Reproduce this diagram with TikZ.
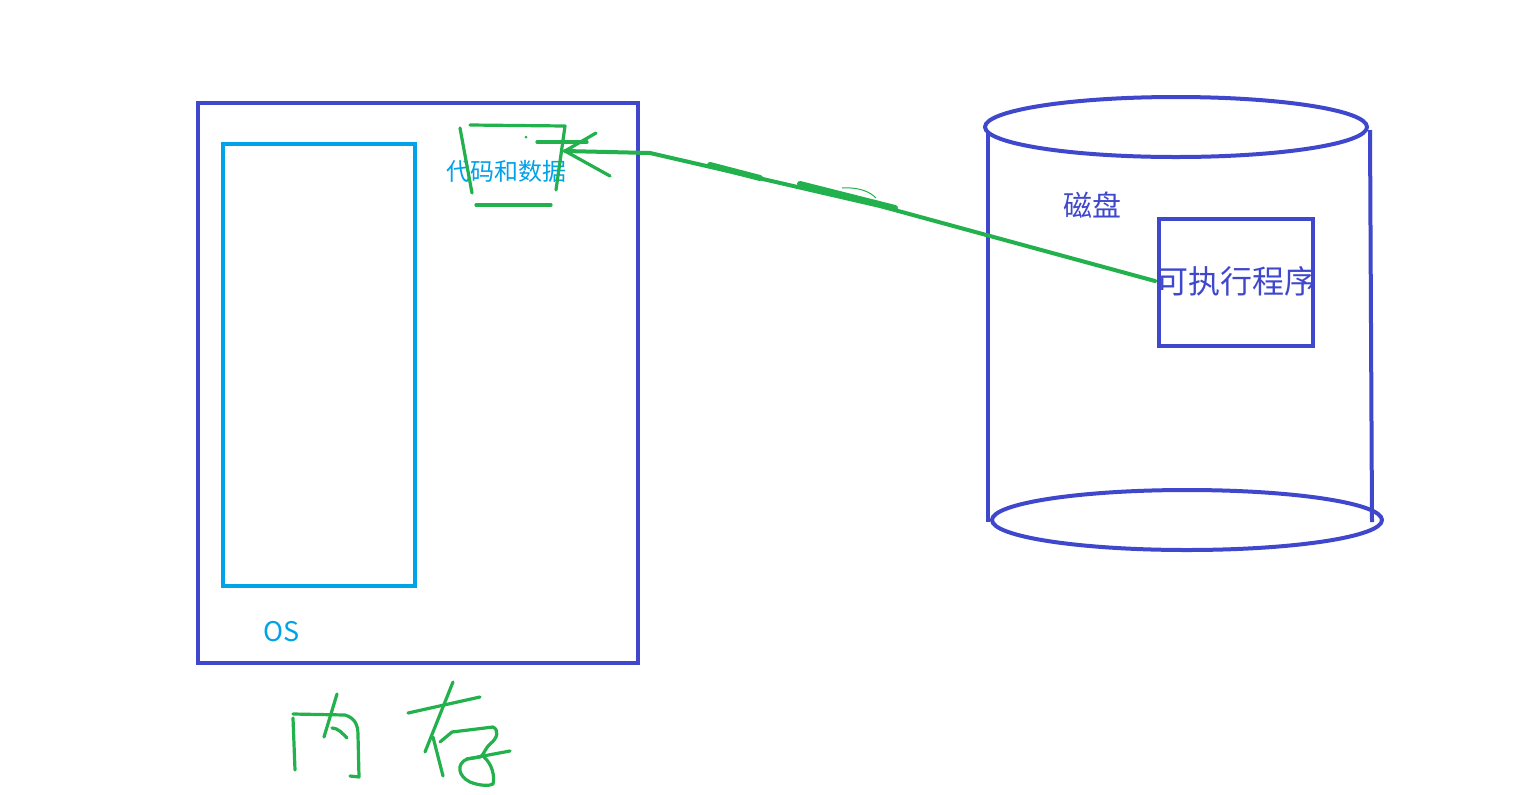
\documentclass[tikz,border=0pt]{standalone}
\usepackage{fontspec}
\newfontfamily\cjk{Noto Sans CJK SC}
\definecolor{pblue}{HTML}{3F48CC}
\definecolor{plight}{HTML}{00A2E8}
\definecolor{pgreen}{HTML}{22B14C}
\begin{document}
\begin{tikzpicture}[x=0.5pt,y=-0.5pt,
  box/.style={draw=pblue,line width=2pt},
  osbox/.style={draw=plight,line width=2pt},
  pen/.style={draw=pgreen,line width=1.6pt,line cap=round,line join=round},
  lbl/.style={inner sep=0pt,font=\cjk}]
\useasboundingbox (0,0) rectangle (1516,794);
\fill[white] (0,0) rectangle (1516,794);
% memory
\node[box,minimum width=220pt,minimum height=280pt,inner sep=0pt] (mem) at (418,383) {};
\node[osbox,minimum width=96pt,minimum height=221pt,inner sep=0pt] (os) at (319,365) {};
\node[lbl,text=plight,font=\cjk\fontsize{13.5}{14}\selectfont] (oslbl) at (282,632) {OS};
\node[lbl,text=plight,font=\cjk\fontsize{12}{13}\selectfont] (code) at (506,171) {代码和数据};
% green marks around code
\draw[pen] (460,128) -- (472,193);
\draw[pen] (470,125) -- (565,126) -- (556,190);
\draw[pen] (476,205) -- (551,205);
\draw[pen] (537,142) -- (587,142);
\fill[pgreen] (526,137) circle (1.5);
\coordinate (tip) at (565,151);
\draw[pen] (596,133) -- (tip) -- (610,176);
% disk
\draw[box] (988,127) -- (988,522);
\draw[box] (1370,130) -- (1372,522);
\draw[box,fill=white] (1176,127) ellipse [x radius=191, y radius=30];
\draw[box] (1187,520) ellipse [x radius=195, y radius=30];
\node[lbl,text=pblue,font=\cjk\fontsize{14.5}{15}\selectfont] (disk) at (1092,205) {磁盘};
\node[box,minimum width=77pt,minimum height=63.5pt,inner sep=0pt] (exe) at (1236,282.5) {};
\node[lbl,text=pblue,font=\cjk\fontsize{16}{17}\selectfont] (exelbl) at (1236,281) {可执行程序};
% main connector
\coordinate (start) at (1155,281);
\draw[pen,line width=2pt] (start) -- (880,206) -- (650,153) -- (tip);
\draw[pen,line width=3pt] (710,165) -- (760,178);
\draw[pen,line width=3pt] (800,184) -- (895,208);
\draw[pgreen,line width=0.5pt] (842,188) .. controls (860,187) and (870,192) .. (876,198);
% handwritten 内存
\draw[pen] (293,718) -- (295,770);
\draw[pen] (293,714) -- (345,715) .. controls (355,718) and (358,725) .. (358,735) -- (359,777) -- (350,776);
\draw[pen] (337,694) -- (324,737);
\draw[pen] (332,728) .. controls (338,728) and (342,733) .. (347,738);
\draw[pen] (408,713) -- (480,697);
\draw[pen] (453,682) -- (425,752);
\draw[pen] (433,737) -- (443,776);
\draw[pen] (440,742) -- (452,732) -- (493,727) .. controls (499,730) and (498,738) .. (490,744)
  .. controls (484,750) and (484,755) .. (480,757)
  -- (467,759) .. controls (456,764) and (458,776) .. (470,782)
  .. controls (480,786) and (490,786) .. (493,784) .. controls (495,776) and (492,764) .. (484,757);
\draw[pen] (467,759) -- (510,751);
\end{tikzpicture}
\end{document}
